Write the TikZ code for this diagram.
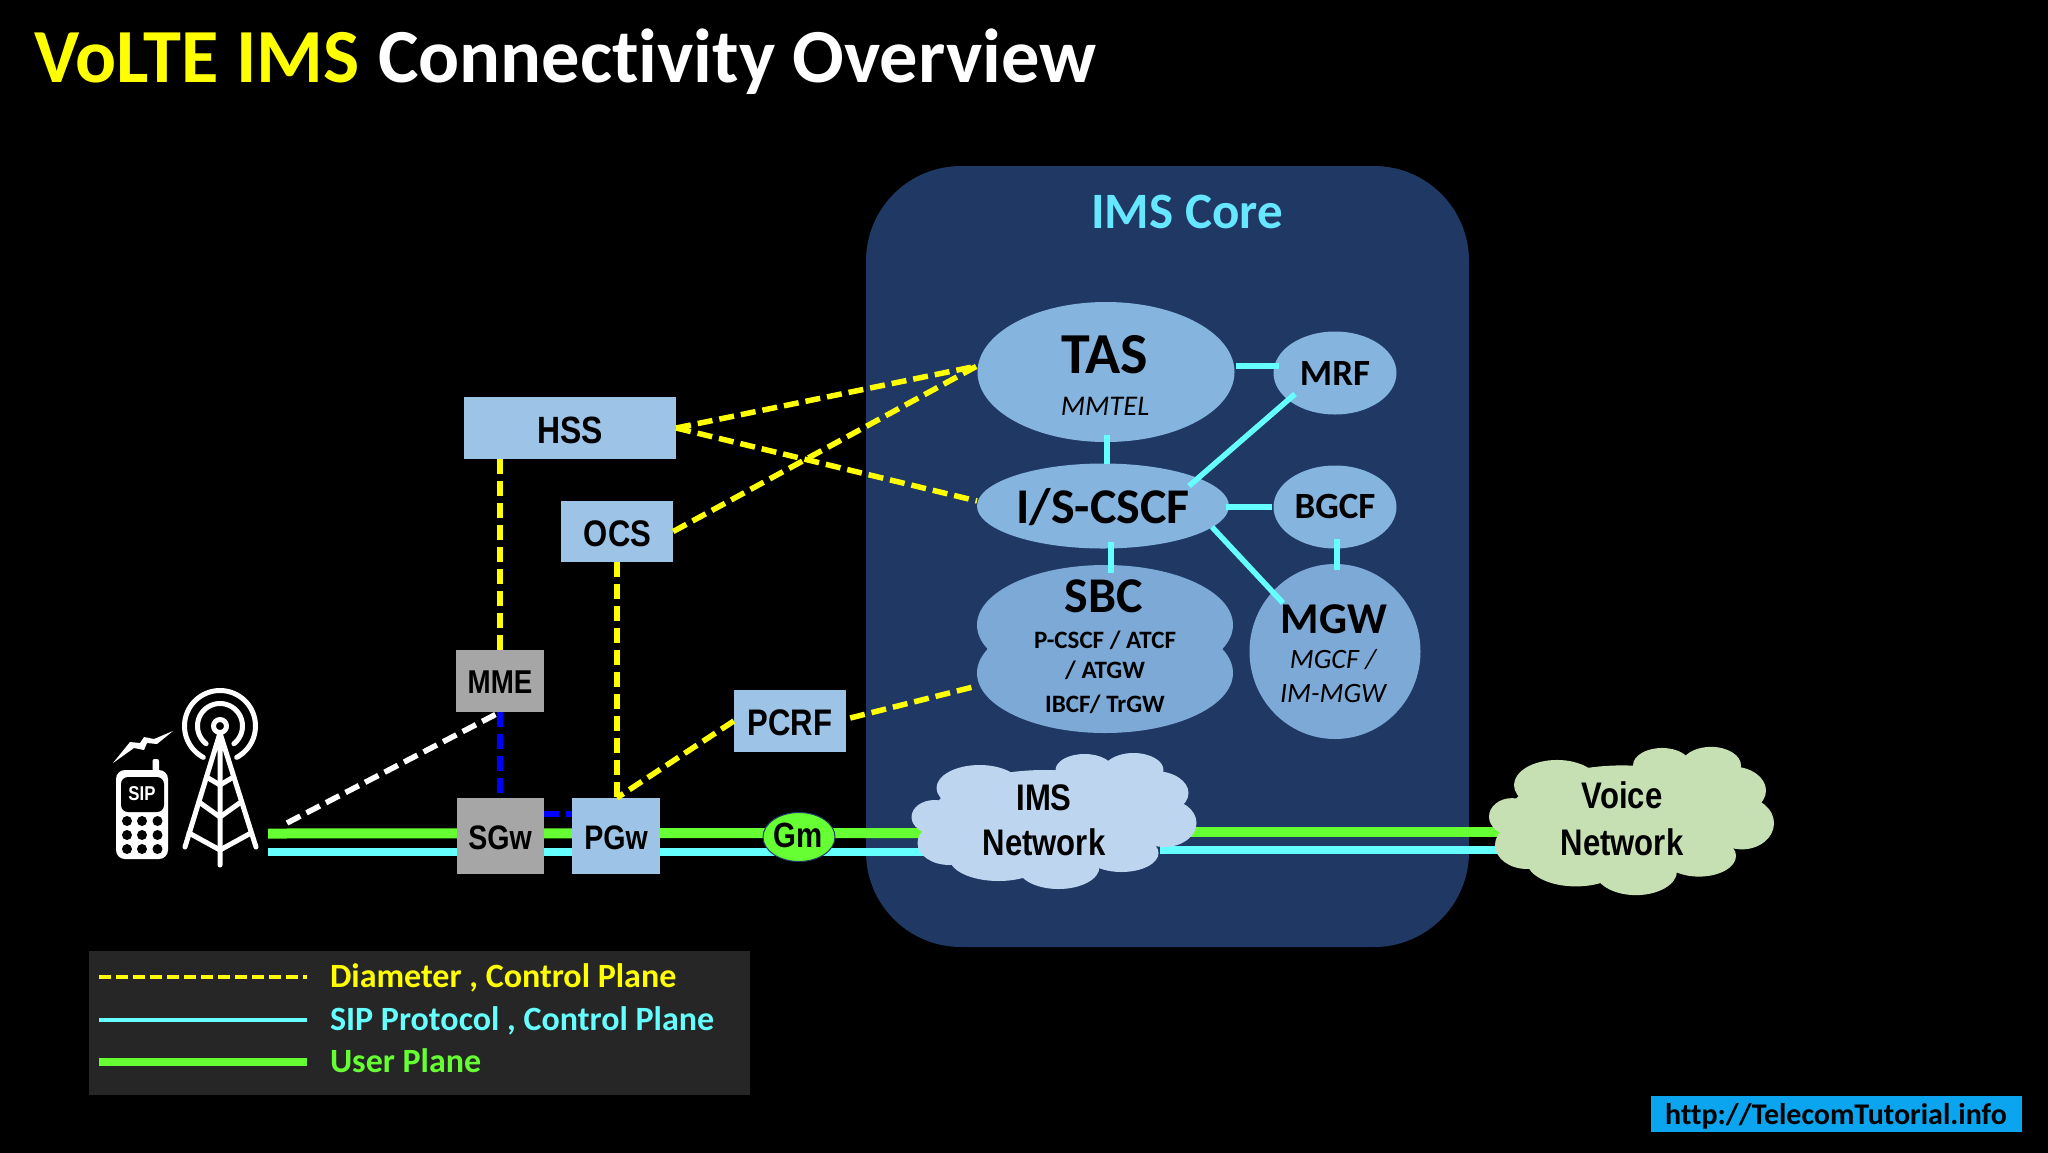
\documentclass[tikz,border=0pt]{standalone}
\usepackage{fontspec}
\usetikzlibrary{shapes.geometric,calc}
\setmainfont{Carlito}[Ligatures=NoCommon]
\newfontfamily\nar{Liberation Sans}[FakeStretch=0.84]
\newcommand\fsz[1]{\fontsize{#1}{#1}\selectfont}
\definecolor{core}{HTML}{1F3864}
\definecolor{boxb}{HTML}{9DC3E6}
\definecolor{boxg}{HTML}{A6A6A6}
\definecolor{ell}{HTML}{85B4DF}
\definecolor{ell2}{HTML}{7DA9D6}
\definecolor{cy}{HTML}{66FFFF}
\definecolor{gr}{HTML}{66FF33}
\definecolor{ye}{HTML}{FFFF00}
\definecolor{cltI}{HTML}{BDD5EE}
\definecolor{cltV}{HTML}{C6E0B4}
\definecolor{coretxt}{HTML}{66E6FF}
\definecolor{urlb}{HTML}{0AA5EE}
\tikzset{
  box/.style={draw=none,rectangle,inner sep=0,minimum width=#1},
  ov/.style={draw=none,ellipse,inner sep=0},
  lab/.style={anchor=base,inner sep=0,outer sep=0,text=black},
  narl/.style={lab,font=\nar\bfseries\fsz{#1}},
  cal/.style={lab,font=\bfseries\fsz{#1}},
  cali/.style={lab,font=\itshape\fsz{#1}},
  dy/.style={draw=ye,line width=5.5pt,dash pattern=on 15pt off 7pt},
  db/.style={draw=blue,line width=5.5pt,dash pattern=on 15pt off 7pt},
  dw/.style={draw=white,line width=5.5pt,dash pattern=on 15pt off 7pt},
  cyl/.style={draw=cy,line width=5.5pt},
  gl/.style={draw=gr,line width=10pt},
  cl/.style={draw=cy,line width=7.5pt},
  twr/.style={draw=white,line width=5pt,line cap=round,line join=round},
}
% cloud made of overlapping lobes, relative to its centre
\newcommand\cloudshape[4]{%
 \begin{scope}[shift={(#1,#2)},yscale=#3]
  \foreach \a/\b/\c/\d in {-120/-4/23/17,-75/-33/43/23,30/-51/29/16,79/-51/30/17,
     100/-28/34/22,110/2/32/24,67/32/37/19,4/46/41/22,-56/37/49/23,-105/22/32/22,-10/-1/115/50}
    {\fill[#4] (\a,\b) ellipse [x radius=\c,y radius=\d];}
 \end{scope}}
\begin{document}
\begin{tikzpicture}[x=1pt,y=-1pt]
\useasboundingbox (0,0) rectangle (2048,1152);
\fill[black] (-5,-5) rectangle (2053,1157);

% title
\node[lab,anchor=base west,text=ye,font=\bfseries\fsz{76.5}] (t1) at (34,82) {VoLTE IMS};
\node[lab,anchor=base west,text=white,font=\bfseries\fsz{76.5}] (t2) at (378,82) {Connectivity Overview};

% IMS core
\node[rectangle,draw=none,fill=core,rounded corners=95pt,inner sep=0,minimum width=603pt,minimum height=781pt] (core) at (1167.5,556.5) {};
\node[cal=51,text=coretxt] (coret) at (1187,228) {IMS Core};

% line ends hidden under the clouds
\coordinate (imsL) at (930,833);
\coordinate (imsR) at (1180,832);
\coordinate (vocL) at (1510,832);
\coordinate (imsLc) at (930,852);
\coordinate (imsRc) at (1160,850);
\coordinate (vocLc) at (1510,850);
\coordinate (startG) at (268,833.5);
\coordinate (startC) at (268,852);

% nodes (placed first so that connectors can name them)
\node[box=212pt,minimum height=62pt,fill=boxb] (HSS) at (570,428) {};
\node[box=112pt,minimum height=61pt,fill=boxb] (OCS) at (617,531.5) {};
\node[box=88pt,minimum height=62pt,fill=boxg] (MME) at (500,681) {};
\node[box=112pt,minimum height=62pt,fill=boxb] (PCRF) at (790,721) {};

% user and SIP plane lines
\draw[gl] (startG) -- (imsL);
\draw[cl] (startC) -- (imsLc);
\draw[gl] (imsR) -- (vocL);
\draw[cl] (imsRc) -- (vocLc);

% boxes on top of lines
\node[box=87pt,minimum height=76pt,fill=boxg] (SGw) at (500,836) {};
\node[box=88pt,minimum height=76pt,fill=boxb] (PGw) at (616,836) {};

% ellipses
\node[ov,fill=ell,minimum width=257pt,minimum height=140pt] (TAS) at (1106,372) {};
\node[ov,fill=ell,minimum width=123pt,minimum height=83pt] (MRF) at (1335,373) {};
\node[ov,fill=ell,minimum width=252pt,minimum height=85pt] (CSCF) at (1103,506) {};
\node[ov,fill=ell,minimum width=123pt,minimum height=83pt] (BGCF) at (1335,507) {};
\node[ov,fill=ell2,minimum width=256pt,minimum height=120pt] (SBC) at (1105,625) {};
\node[ov,fill=ell2,minimum width=256pt,minimum height=120pt] (SBCb) at (1105,673) {};
\node[ov,fill=ell2,minimum width=171pt,minimum height=175pt] (MGW) at (1335,651.5) {};

% core connectors
\draw[cyl] ([shift={(130,-6)}]TAS.center) -- ([shift={(-56,-7)}]MRF.center);
\draw[cyl] ([shift={(1,63)}]TAS.center) -- ([shift={(4,-42)}]CSCF.center);
\draw[cyl] ([shift={(86,-20)}]CSCF.center) -- ([shift={(-40,21)}]MRF.center);
\draw[cyl] ([shift={(123,1)}]CSCF.center) -- ([shift={(-63,0)}]BGCF.center);
\draw[cyl] ([shift={(8,36)}]CSCF.center) -- ([shift={(6,-52)}]SBC.center);
\draw[cyl] ([shift={(109,21)}]CSCF.center) -- ([shift={(-52,-48.5)}]MGW.center);
\draw[cyl] ([shift={(2,32)}]BGCF.center) -- ([shift={(2,-81.5)}]MGW.center);

% diameter connectors
\draw[dy] (HSS.east) -- ([shift={(-129,-6)}]TAS.center);
\draw[dy] (HSS.east) -- ([shift={(-126,-5)}]CSCF.center);
\draw[dy] (OCS.east) -- ([shift={(-129,-6)}]TAS.center);
\draw[dy] (HSS.south -| MME.north) -- (MME.north);
\draw[dy] (OCS.south) -- (OCS.south |- PGw.north);
\draw[dy] (PCRF.west) -- (OCS.south |- PGw.north);
\draw[dy] ([shift={(4,-3)}]PCRF.east) -- ([shift={(0,13)}]SBCb.west);
\draw[db] (MME.south) -- (SGw.north);
\draw[db] ([shift={(0,-22)}]SGw.east) -- ([shift={(0,-22)}]PGw.west);
\coordinate (rad) at (287,823);
\draw[dw] (rad) -- ([shift={(-2,1)}]MME.south);

% clouds
\cloudshape{1054.5}{821}{1}{cltI}
\cloudshape{1632}{821}{1.09}{cltV}

% Gm
\node[ov,fill=gr,draw=core,line width=1pt,minimum width=72pt,minimum height=49pt] (Gm) at (799,837) {};

% labels
\node[narl=38] (lHSS) at (570,443) {HSS};
\node[narl=37] (lOCS) at (617.5,546) {OCS};
\node[narl=33] (lMME) at (500,693) {MME};
\node[narl=37] (lPCRF) at (790,735) {PCRF};
\node[narl=34] (lSGw) at (500,849) {SGw};
\node[narl=34] (lPGw) at (616,849) {PGw};
\node[narl=35] (lGm) at (798,847) {Gm};
\node[narl=37] (lI1) at (1044,810) {IMS};
\node[narl=37] (lI2) at (1044,855) {Network};
\node[narl=37] (lV1) at (1622,808) {Voice};
\node[narl=37] (lV2) at (1622,855) {Network};

\node[cal=58] (lTAS) at (1105,373) {TAS};
\node[cali=28.5] (lMM) at (1105,415) {MMTEL};
\node[cal=37] (lMRF) at (1335,385) {MRF};
\node[cal=50] (lCS) at (1103,523) {I/S-CSCF};
\node[cal=37] (lBG) at (1335,518) {BGCF};
\node[cal=50] (lSB) at (1104,612) {SBC};
\node[cal=25] (lP) at (1105,648) {P-CSCF / ATCF};
\node[cal=25] (lA) at (1105,678) {/ ATGW};
\node[cal=25] (lIB) at (1105,712) {IBCF/ TrGW};
\node[cal=44] (lMG) at (1334,633) {MGW};
\node[cali=28] (lM1) at (1333,668) {MGCF /};
\node[cali=28] (lM2) at (1333,702) {IM-MGW};

% tower
\draw[twr] (220,726) circle [radius=6.5];
\draw[twr] plot[smooth,samples=50,domain=128:412] ({220+22.5*cos(\x)},{726+22.5*sin(\x)});
\draw[twr] plot[smooth,samples=70,domain=118:422] ({220+35.5*cos(\x)},{726+35.5*sin(\x)});
\draw[twr] (220,733) -- (185,847) (220,733) -- (256,847) (220,733) -- (220,865);
\draw[twr] (206.5,777) -- (220,785) -- (233.5,777);
\draw[twr] (199,802) -- (220,817) -- (241,802);
\draw[twr] (189,833) -- (220,850) -- (251,833);

% phone
\fill[white,rounded corners=2pt] (152.5,759) rectangle (159,775);
\fill[white,rounded corners=9pt] (116,770) rectangle (168,859);
\fill[black,rounded corners=7pt] (121,777) rectangle (164,812);
\node[lab,text=white,font=\nar\bfseries\fsz{20}] (lSIP) at (142,800) {SIP};
\foreach \yy in {821,835,849}
  \foreach \xx in {127,142,157.5}
    \fill[black] (\xx,\yy) circle [radius=5];
\fill[white] (113,763) -- (130,742) -- (140,743) -- (144,737) -- (154,739) -- (173,731) -- (157,744) -- (147,743) -- (144,750) -- (134,748) -- cycle;

% legend
\node[rectangle,draw=none,fill=black!85!white,inner sep=0,minimum width=661pt,minimum height=144pt] (leg) at (419.5,1023) {};
\coordinate (a1) at (99,977); \coordinate (b1) at (307,977);
\coordinate (a2) at (99,1020); \coordinate (b2) at (307,1020);
\coordinate (a3) at (99,1062); \coordinate (b3) at (307,1062);
\draw[draw=ye,line width=4pt,dash pattern=on 12pt off 5pt] (a1) -- (b1);
\draw[draw=cy,line width=4pt] (a2) -- (b2);
\draw[draw=gr,line width=8pt] (a3) -- (b3);
\node[lab,anchor=base west,text=ye,font=\bfseries\fsz{34}] (g1) at (330,987) {Diameter , Control Plane};
\node[lab,anchor=base west,text=cy,font=\bfseries\fsz{34}] (g2) at (330,1030) {SIP Protocol , Control Plane};
\node[lab,anchor=base west,text=gr,font=\bfseries\fsz{34}] (g3) at (330,1072) {User Plane};

% url
\node[rectangle,draw=none,fill=urlb,inner sep=0,minimum width=371pt,minimum height=36pt] (url) at (1836.5,1114) {};
\node[cal=30] (urlt) at (1836,1124) {http://TelecomTutorial.info};
\end{tikzpicture}
\end{document}
